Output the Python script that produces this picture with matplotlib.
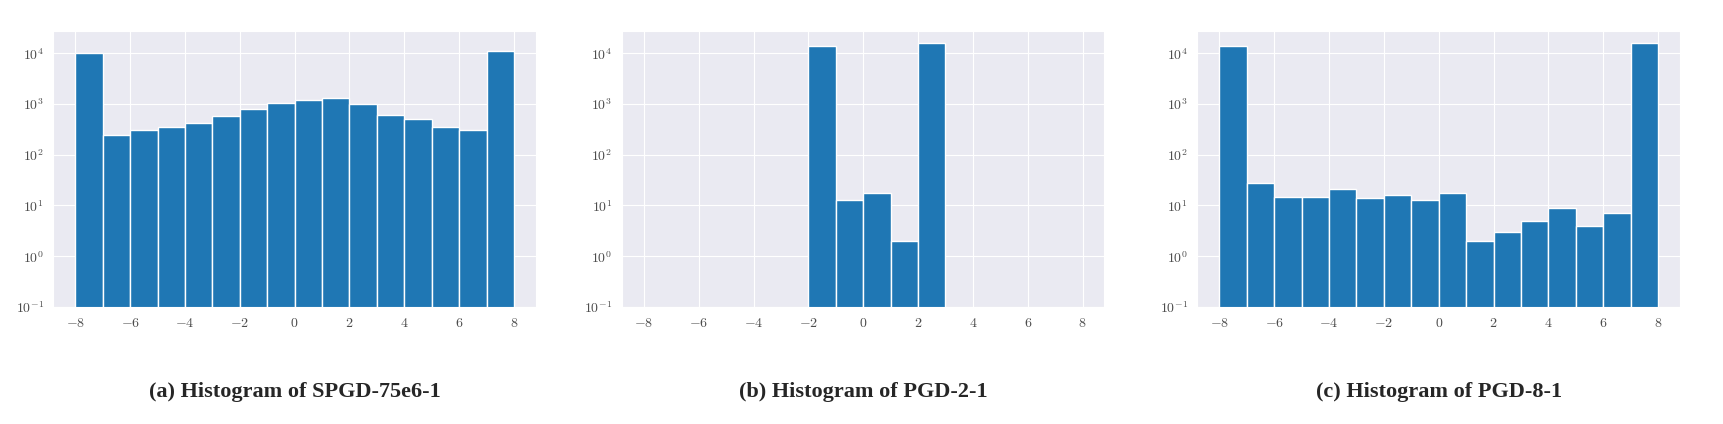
import matplotlib
matplotlib.use("Agg")
import matplotlib.pyplot as plt
import seaborn as sns
import numpy as np

sns.set_style("darkgrid")
plt.rcParams['font.family'] = ['serif']
plt.rcParams['font.serif'] = ['cmr10', 'DejaVu Serif']
plt.rcParams['mathtext.fontset'] = 'cm'
plt.rcParams['axes.formatter.use_mathtext'] = True
plt.rcParams['axes.unicode_minus'] = True

bin_edges = list(range(-8, 9))
counts_a = [10000, 250, 310, 350, 430, 570, 800, 1050, 1200, 1300, 1000, 620, 500, 350, 310, 11000]
counts_b = [0, 0, 0, 0, 0, 0, 14000, 13, 18, 2, 16000, 0, 0, 0, 0, 0]
counts_c = [14000, 28, 15, 15, 21, 14, 16, 13, 18, 2, 3, 5, 9, 4, 7, 16000]
titles = ["(a) Histogram of SPGD-75e6-1", "(b) Histogram of PGD-2-1", "(c) Histogram of PGD-8-1"]
xticks = [-8, -6, -4, -2, 0, 2, 4, 6, 8]

fig = plt.figure(figsize=(17.23, 4.24), dpi=100)
lefts = [0.031, 0.361, 0.695]
centers = np.array(bin_edges[:-1]) + 0.5
for left, counts, title in zip(lefts, [counts_a, counts_b, counts_c], titles):
    ax = fig.add_axes([left, 0.276, 0.28, 0.651])
    ax.hist(centers, bins=bin_edges, weights=counts, color='#1f77b4', edgecolor='white', linewidth=1, log=True)
    ax.set_yscale('log')
    ax.set_ylim(0.1, 27500)
    ax.set_xlim(-8.8, 8.8)
    ax.set_xticks(xticks)
    ax.tick_params(labelsize=10, colors='.3')
    ax.text(0.5, 0.075, title, transform=fig.transFigure if False else ax.transAxes, alpha=0)
    fig.text(left + 0.14, 0.075, title, ha='center', va='center', fontsize=16,
             fontweight='bold', family=['Liberation Serif', 'DejaVu Serif'])

fig.savefig("out.png", dpi=100)
